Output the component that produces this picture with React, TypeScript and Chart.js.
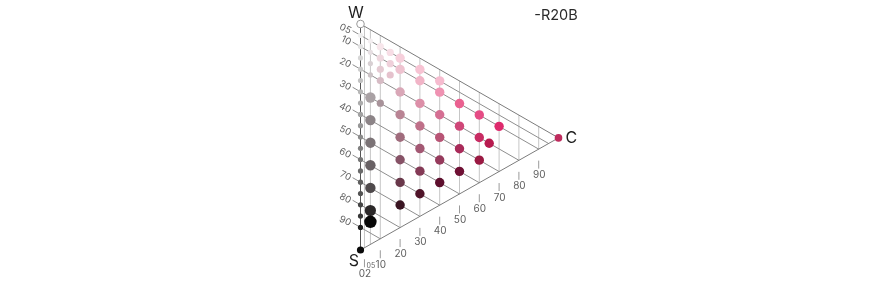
import React, { useEffect, useRef } from "react";
import { Chart, registerables } from "chart.js";

Chart.register(...registerables);

// ---------------- data ----------------
const hueLabel = "-R20B";

// Elementary attributes (corners of the NCS triangle)
const vertexNames = ["W", "S", "C"];
const vertexBlackness = [0, 100, 0];
const vertexChromaticness = [0, 0, 100];
const vertexColors = ["#ffffff", "#0a0a0a", "#bf2c5e"];

// Neutral greys on the W–S axis
const greyBlackness = [5, 10, 15, 20, 25, 30, 35, 40, 45, 50, 55, 60, 65, 70, 75, 80, 85, 90];
const greyColors = [
  "#eeeeee", "#e2e2e2", "#d6d6d6", "#cbcbcb", "#c1c1c1", "#b7b7b7", "#acacac", "#a1a1a1", "#969696",
  "#8b8b8b", "#808080", "#757575", "#6a6a6a", "#5e5e5e", "#525252", "#454545", "#363636", "#1e1e1e",
];

// Chromatic nuances: blackness / chromaticness
const swatchBlackness = [
  5, 10, 15, 20, 30, 40, 50, 60, 70, 80, 85,
  5, 10, 15, 20, 30,
  5, 10, 15,
  5, 10, 20, 30, 40, 50, 60, 70,
  5, 10, 20, 30, 40, 50, 60,
  5, 10, 20, 30, 40, 50,
  10, 20, 30, 40,
  10, 20, 30,
  20,
  10,
];
const swatchChromaticness = [
  5, 5, 5, 5, 5, 5, 5, 5, 5, 5, 5,
  10, 10, 10, 10, 10,
  15, 15, 15,
  20, 20, 20, 20, 20, 20, 20, 20,
  30, 30, 30, 30, 30, 30, 30,
  40, 40, 40, 40, 40, 40,
  50, 50, 50, 50,
  60, 60, 60,
  65,
  70,
];
const swatchColors = [
  "#f3eef0", "#e6dfe2", "#d8d0d3", "#cbc2c5", "#a9a1a4", "#8c8487", "#7b7376", "#686164", "#4f4a4c", "#2b2829", "#080808",
  "#f7e6eb", "#eed7de", "#e4cad2", "#d6bbc4", "#a8939a",
  "#f7dde5", "#efd0da", "#e5c2cd",
  "#f6cfdb", "#eec3d0", "#d9a7b7", "#b98494", "#a06c7d", "#865266", "#69384a", "#3a1522",
  "#f7c3d3", "#f1b4c7", "#dc8fa8", "#bf7089", "#a35873", "#843a56", "#4f1429",
  "#f6bbcf", "#ef92b2", "#d56f93", "#b85475", "#963a5c", "#5d0f2d",
  "#ea6190", "#cf4778", "#a92a59", "#6f1034",
  "#e54c85", "#c82c63", "#9a1942",
  "#b71b4f",
  "#de2b6d",
];

// Axis ticks
const blacknessTicks = [5, 10, 20, 30, 40, 50, 60, 70, 80, 90];
const blacknessTickLabels = ["05", "10", "20", "30", "40", "50", "60", "70", "80", "90"];
const chromaticnessTicks = [2, 5, 10, 20, 30, 40, 50, 60, 70, 80, 90];
const chromaticnessTickLabels = ["02", "05", "10", "20", "30", "40", "50", "60", "70", "80", "90"];

// ---------------- geometry (triangle skew) ----------------
const SKEW = 0.504; // vertical shift of chromaticness relative to blackness
const FONT = "Inter, 'Liberation Sans', Arial, sans-serif";

function radiusFor(s: number, c: number): number {
  if (c === 0) return 2.6;
  if (c === 5) return s < 30 ? 2.6 : s >= 85 ? 6.2 : s >= 80 ? 5.6 : 5.2;
  if (c <= 15) return 3.6;
  return 4.7;
}

const gridPlugin = {
  id: "ncsGrid",
  beforeDatasetsDraw(chart: any) {
    const { ctx, scales } = chart;
    const P = (s: number, c: number) => [scales.x.getPixelForValue(c), scales.y.getPixelForValue(s + SKEW * c)];
    const line = (a: number[], b: number[]) => {
      ctx.beginPath();
      ctx.moveTo(a[0], a[1]);
      ctx.lineTo(b[0], b[1]);
      ctx.stroke();
    };
    ctx.save();
    ctx.lineWidth = 1;
    // constant chromaticness (vertical) lines
    ctx.strokeStyle = "#c6c6c6";
    for (const c of chromaticnessTicks) line(P(0, c), P(100 - c, c));
    // constant blackness lines
    ctx.strokeStyle = "#8e8e8e";
    for (const s of blacknessTicks) line(P(s, -4), P(s, 100 - s));
    // triangle edges
    ctx.strokeStyle = "#7c7c7c";
    line(P(0, 0), P(0, 100));
    line(P(100, 0), P(0, 100));
    ctx.strokeStyle = "#555555";
    line(P(0, 0), P(100, 0));
    // chromaticness ticks below the S–C edge
    ctx.strokeStyle = "#9a9a9a";
    chromaticnessTicks.forEach((c) => {
      if (c === 5) return;
      const [x, y] = P(100 - c, c);
      line([x, y + 11.5], [x, y + 19.5]);
    });
    ctx.restore();
  },
  afterDatasetsDraw(chart: any) {
    const { ctx, scales } = chart;
    const P = (s: number, c: number) => [scales.x.getPixelForValue(c), scales.y.getPixelForValue(s + SKEW * c)];
    ctx.save();
    ctx.fillStyle = "#606060";
    // blackness labels (rotated along the lines)
    const ang = Math.atan2(P(0, 100)[1] - P(0, 0)[1], P(0, 100)[0] - P(0, 0)[0]);
    ctx.font = `9.5px ${FONT}`;
    ctx.textAlign = "right";
    ctx.textBaseline = "middle";
    blacknessTicks.forEach((s, i) => {
      const [x, y] = P(s, -4);
      ctx.save();
      ctx.translate(x, y);
      ctx.rotate(ang * 0.85);
      ctx.fillText(blacknessTickLabels[i], -1.5, 1.5);
      ctx.restore();
    });
    // chromaticness labels
    ctx.textAlign = "center";
    chromaticnessTicks.forEach((c, i) => {
      const [x, y] = P(100 - c, c);
      if (c === 5) {
        ctx.font = `7px ${FONT}`;
        ctx.fillText(chromaticnessTickLabels[i], x + 0.5, y + 21.5);
      } else {
        ctx.font = `10px ${FONT}`;
        ctx.fillText(chromaticnessTickLabels[i], x + 0.5, y + 26);
      }
    });
    // vertex names
    ctx.fillStyle = "#1e1e1e";
    ctx.font = `16px ${FONT}`;
    const [wx, wy] = P(vertexBlackness[0], vertexChromaticness[0]);
    ctx.fillText(vertexNames[0], wx - 4.5, wy - 11);
    const [sx, sy] = P(vertexBlackness[1], vertexChromaticness[1]);
    ctx.fillText(vertexNames[1], sx - 6.5, sy + 11.5);
    const [cx, cy] = P(vertexBlackness[2], vertexChromaticness[2]);
    ctx.textAlign = "left";
    ctx.fillText(vertexNames[2], cx + 7, cy + 0.5);
    // hue label
    ctx.fillStyle = "#2a2a2a";
    ctx.font = `14.5px ${FONT}`;
    ctx.textAlign = "center";
    ctx.fillText(hueLabel, 556, 16);
    ctx.restore();
  },
};

export default function App() {
  const ref = useRef<HTMLCanvasElement | null>(null);

  useEffect(() => {
    if (!ref.current) return;
    const toPoint = (s: number, c: number) => ({ x: c, y: s + SKEW * c, s, c });

    const greyData = greyBlackness.map((s) => toPoint(s, 0));
    const swatchData = swatchBlackness.map((s, i) => toPoint(s, swatchChromaticness[i]));
    const vertexData = vertexBlackness.map((s, i) => toPoint(s, vertexChromaticness[i]));

    const chart = new Chart(ref.current, {
      type: "scatter",
      data: {
        datasets: [
          {
            data: greyData,
            backgroundColor: greyColors,
            borderWidth: 0,
            pointRadius: (ctx: any) => radiusFor(ctx.raw.s, ctx.raw.c),
          },
          {
            data: swatchData,
            backgroundColor: swatchColors,
            borderWidth: 0,
            pointRadius: (ctx: any) => radiusFor(ctx.raw.s, ctx.raw.c),
          },
          {
            data: vertexData,
            backgroundColor: vertexColors,
            borderColor: ["#9a9a9a", "#0a0a0a", "#bf2c5e"],
            borderWidth: [1, 0, 0],
            pointRadius: [3.8, 3.6, 3.8],
          },
        ],
      } as any,
      options: {
        responsive: false,
        animation: false,
        events: [],
        layout: { padding: 0, autoPadding: false },
        plugins: { legend: { display: false }, tooltip: { enabled: false } },
        scales: {
          x: { type: "linear", display: false, bounds: "data", min: -360.5 / 1.98, max: (880 - 360.5) / 1.98 },
          y: { type: "linear", display: false, bounds: "data", reverse: true, min: -24 / 2.26, max: (281 - 24) / 2.26 },
        },
      } as any,
      plugins: [gridPlugin],
    });
    return () => chart.destroy();
  }, []);

  return (
    <div style={{ position: "fixed", left: 0, top: 0, width: 880, height: 281, background: "#ffffff" }}>
      <canvas ref={ref} width={880} height={281} style={{ display: "block" }} />
    </div>
  );
}
